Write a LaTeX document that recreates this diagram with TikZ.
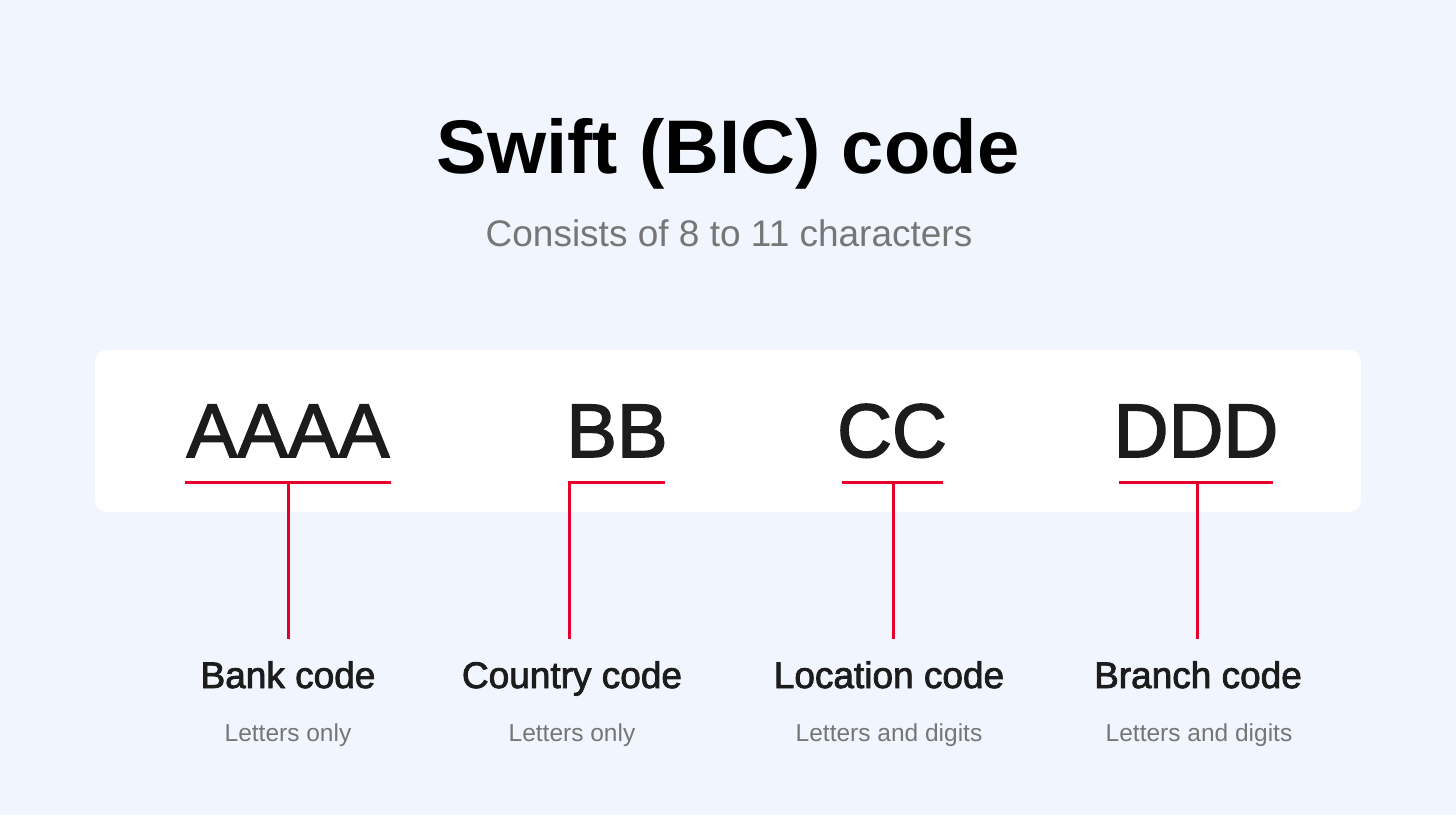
\documentclass[tikz,border=0pt]{standalone}
\usepackage{fontspec}
\setmainfont{Liberation Sans}
\newfontface\medfont[FakeBold=2.2]{Liberation Sans}
\newfontface\bigfont[FakeBold=2]{Liberation Sans}
\usetikzlibrary{calc}
\definecolor{bgblue}{HTML}{F1F6FE}
\definecolor{codered}{HTML}{E4002B}
\definecolor{ink}{HTML}{1C1C1C}
\definecolor{greytext}{HTML}{767676}
\begin{document}
\begin{tikzpicture}[x=1pt,y=-1pt,
	letters/.style={anchor=base,inner sep=0pt,text=ink,font=\bigfont\fontsize{76}{80}\selectfont},
	part/.style={anchor=base,inner sep=0pt,text=ink,font=\medfont\fontsize{37}{40}\selectfont},
	hint/.style={anchor=base,inner sep=0pt,text=greytext,font=\fontsize{24.5}{28}\selectfont},
	redline/.style={draw=codered,line width=3pt},
	]
	% background and white panel
	\fill[bgblue] (0,0) rectangle (1456,815);
	\useasboundingbox (0,0) rectangle (1456,815);
	\fill[white,rounded corners=12] (95,350) rectangle (1361,512);
	% title
	\node[anchor=base,inner sep=0pt,font=\bfseries\fontsize{76}{90}\selectfont] (title) at (728,173) {Swift (BIC) code};
	\node[anchor=base,inner sep=0pt,text=greytext,font=\fontsize{37}{40}\selectfont] (subtitle) at (729,246) {Consists of 8 to 11 characters};
	% the four parts
	\node[letters] (bank) at (288,457) {AAAA};
	\node[letters] (country) at (617,457) {BB};
	\node[letters] (location) at (892,457) {CC};
	\node[letters] (branch) at (1196,457) {DDD};
	\node[part] (bankl) at (288,688) {Bank code};
	\node[part] (countryl) at (572,688) {Country code};
	\node[part] (locationl) at (889,688) {Location code};
	\node[part] (branchl) at (1198,688) {Branch code};
	\node[hint] (bankh) at (288,741) {Letters only};
	\node[hint] (countryh) at (572,741) {Letters only};
	\node[hint] (locationh) at (889,741) {Letters and digits};
	\node[hint] (branchh) at (1199,741) {Letters and digits};
	% underlines
	\coordinate (aL) at (185,482); \coordinate (aR) at (391,482); \coordinate (aM) at (288,482);
	\coordinate (bL) at (568,482); \coordinate (bR) at (665,482); \coordinate (bM) at (569,482);
	\coordinate (cL) at (842,482); \coordinate (cR) at (943,482); \coordinate (cM) at (893,482);
	\coordinate (dL) at (1119,482); \coordinate (dR) at (1273,482); \coordinate (dM) at (1197,482);
	\draw[redline] (aL) -- (aR);
	\draw[redline] (bL) -- (bR);
	\draw[redline] (cL) -- (cR);
	\draw[redline] (dL) -- (dR);
	\draw[redline,shorten >=22pt] (aM) -- (aM |- bankl.north);
	\draw[redline,shorten >=22pt] (bM) -- (bM |- countryl.north);
	\draw[redline,shorten >=22pt] (cM) -- (cM |- locationl.north);
	\draw[redline,shorten >=22pt] (dM) -- (dM |- branchl.north);
\end{tikzpicture}
\end{document}
